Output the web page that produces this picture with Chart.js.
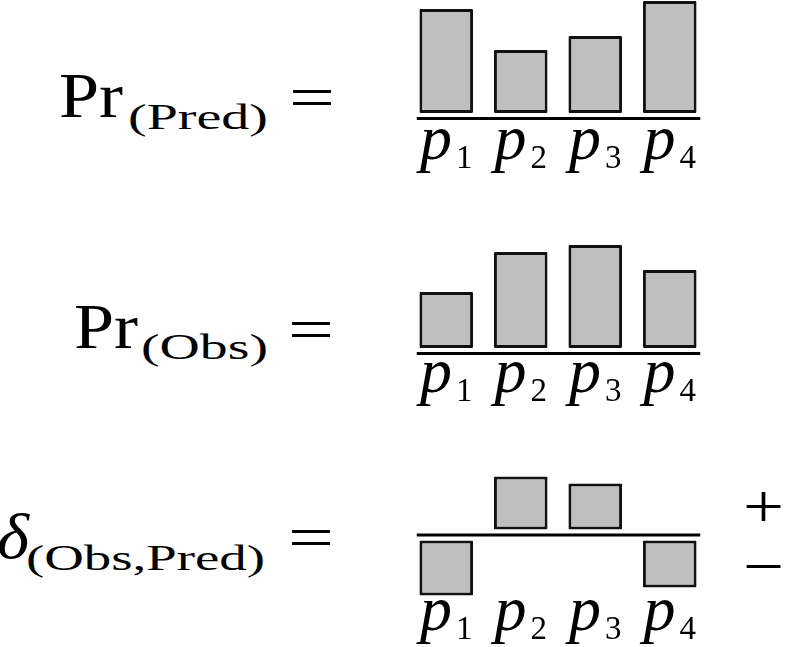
<!DOCTYPE html>
<html>
<head>
<meta charset="utf-8">
<script src="https://cdn.jsdelivr.net/npm/chart.js@4.4.1/dist/chart.umd.min.js"></script>
<style>
  html, body { margin: 0; padding: 0; background: #fff; width: 785px; height: 647px; overflow: hidden; }
  canvas { position: absolute; }
  .t { position: absolute; white-space: nowrap; color: #000; line-height: 1; transform-origin: 0 0; }
  .main { font: 64px "Liberation Serif", "Times New Roman", serif; }
  .mainI { font: italic 64px "Liberation Serif", "Times New Roman", serif; }
  .sub { font: 35px "Liberation Serif", "Times New Roman", serif; }
  .eq { font: 62px "Liberation Serif", "Times New Roman", serif; }
</style>
</head>
<body>

<canvas id="predChart" width="298" height="185" style="left:409px; top:0px"></canvas>
<canvas id="obsChart" width="298" height="180" style="left:409px; top:235px"></canvas>
<canvas id="deltaChart" width="298" height="177" style="left:409px; top:470px"></canvas>

<!-- left-hand formula text, placed by baseline below -->
<div class="t main" data-x="59" data-y="117" data-w="64">Pr</div>
<div class="t sub" data-x="128" data-y="129" data-w="140">(Pred)</div>
<div class="t eq" data-x="289" data-y="118" data-w="46">=</div>

<div class="t main" data-x="74" data-y="348" data-w="64">Pr</div>
<div class="t sub" data-x="141" data-y="359" data-w="127">(Obs)</div>
<div class="t eq" data-x="288" data-y="350" data-w="46">=</div>

<div class="t mainI" data-x="-3" data-y="558" data-w="32">δ</div>
<div class="t sub" data-x="26" data-y="570" data-w="239">(Obs,Pred)</div>
<div class="t eq" data-x="288" data-y="558" data-w="46">=</div>

<div class="t eq" data-x="743" data-y="527" data-w="41">+</div>
<div class="t eq" data-x="743" data-y="587" data-w="41">−</div>

<script>
// --- 1. DATA ---
const categories = ['p1', 'p2', 'p3', 'p4'];
const predValues = [1.04, 0.63, 0.77, 1.12];
const obsValues = [0.56, 0.96, 1.03, 0.78];
const deltaValues = [-0.55, 0.53, 0.46, -0.47];

// --- 2. STYLE ---
const barFill = '#bfbfbf';
const barEdge = '#111111';
const barGap = 0.055; // bars float just off the axis line
const letterFont = 'italic 64px "Liberation Serif", "Times New Roman", serif';
const indexFont = '33px "Liberation Serif", "Times New Roman", serif';

// bars start a little away from the zero line, in the direction of the value
function floating(values) {
    return values.map(v => {
        const s = v < 0 ? -1 : 1;
        return [s * barGap, s * barGap + v];
    });
}

// axis line + p_i labels under each chart
const axisAndLabels = {
    id: 'axisAndLabels',
    beforeDatasetsDraw(chart) {
        const { ctx, scales: { x, y } } = chart;
        const y0 = y.getPixelForValue(0);
        ctx.save();
        ctx.strokeStyle = '#000';
        ctx.lineWidth = 3;
        ctx.beginPath();
        ctx.moveTo(x.getPixelForValue(0) - 29.5, y0);
        ctx.lineTo(x.getPixelForValue(categories.length - 1) + 30.5, y0);
        ctx.stroke();
        ctx.restore();
    },
    afterDraw(chart, args, opts) {
        const { ctx, scales: { x } } = chart;
        ctx.save();
        ctx.fillStyle = '#000';
        ctx.textBaseline = 'alphabetic';
        categories.forEach((cat, i) => {
            const letter = cat.charAt(0);
            const sub = cat.slice(1);
            ctx.font = letterFont;
            const wp = ctx.measureText(letter).width;
            ctx.font = indexFont;
            const ws = ctx.measureText(sub).width;
            const total = wp + 4 + ws;
            const x0 = x.getPixelForValue(i) - total / 2;
            ctx.font = letterFont;
            ctx.fillText(letter, x0, opts.labelY);
            ctx.font = indexFont;
            ctx.fillText(sub, x0 + wp + 4, opts.labelY + 9);
        });
        ctx.restore();
    }
};

// --- 3. CHARTS ---
function makeChart(id, values, yMin, yMax, padBottom, labelY) {
    return new Chart(document.getElementById(id), {
        type: 'bar',
        data: {
            labels: categories,
            datasets: [{
                data: floating(values),
                backgroundColor: barFill,
                borderColor: barEdge,
                borderWidth: 3,
                borderSkipped: false,
                borderRadius: 1,
                barPercentage: 0.72,
                categoryPercentage: 1.0
            }]
        },
        options: {
            responsive: false,
            animation: false,
            layout: { padding: { left: 0, right: 0, top: 0, bottom: padBottom } },
            plugins: {
                legend: { display: false },
                tooltip: { enabled: false },
                axisAndLabels: { labelY: labelY }
            },
            scales: {
                x: { display: false },
                y: { display: false, min: yMin, max: yMax }
            }
        },
        plugins: [axisAndLabels]
    });
}

makeChart('predChart', predValues, -0.065, 1.185, 60, 159);
makeChart('obsChart', obsValues, -0.065, 1.185, 55, 157);
makeChart('deltaChart', deltaValues, -0.65, 0.65, 47, 160);

// --- 4. PLACE FORMULA TEXT BY BASELINE ---
document.querySelectorAll('.t').forEach(el => {
    const marker = document.createElement('span');
    marker.style.cssText = 'display:inline-block;width:0;height:0;vertical-align:baseline';
    el.appendChild(marker);
    el.style.left = el.dataset.x + 'px';
    el.style.top = '0px';
    const base = marker.getBoundingClientRect().bottom - el.getBoundingClientRect().top;
    el.style.top = (parseFloat(el.dataset.y) - base) + 'px';
    if (el.dataset.w) {
        const w = el.getBoundingClientRect().width;
        el.style.transform = 'scaleX(' + (parseFloat(el.dataset.w) / w) + ')';
    }
});
</script>
</body>
</html>
